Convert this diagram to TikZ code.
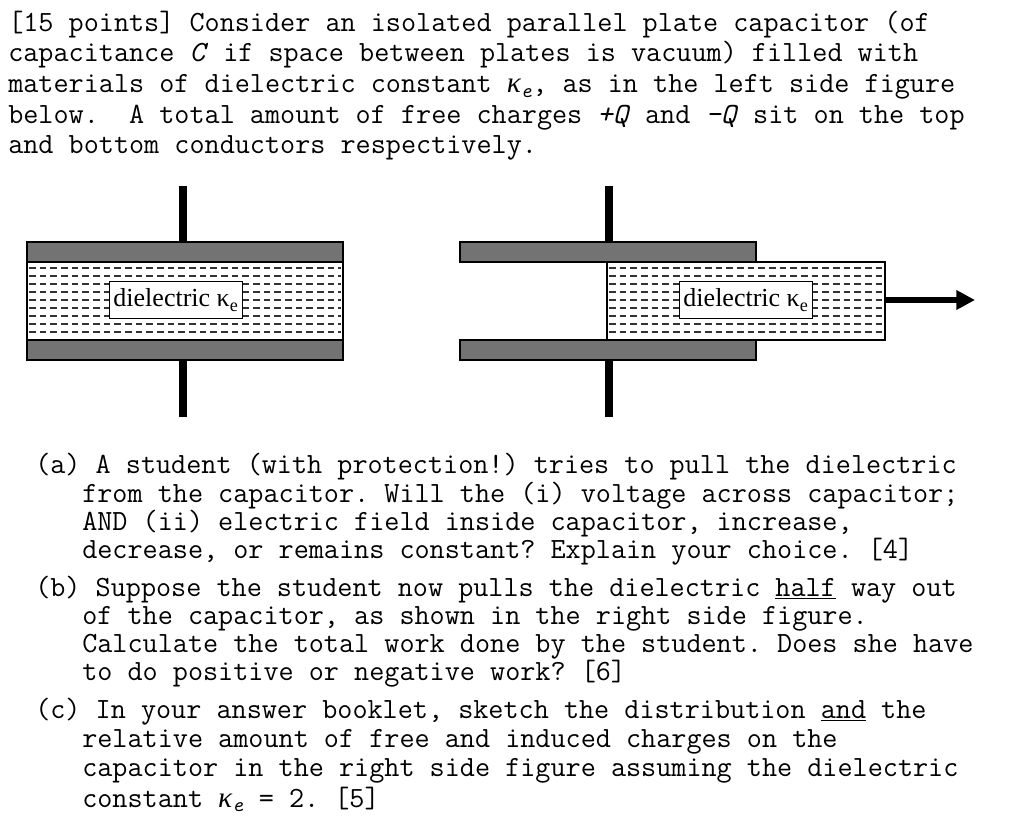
\documentclass[tikz,border=0pt]{standalone}
\usepackage{fontspec}
\setmainfont{Liberation Serif}
\newfontfamily\grk{Liberation Serif}
\usetikzlibrary{arrows.meta}
\frenchspacing
\begin{document}
\begin{tikzpicture}[x=0.75pt,y=-0.75pt,
  txt/.style={anchor=base west,inner sep=0pt,font=\fontsize{22}{24}\ttfamily\frenchspacing},
  plate/.style={draw=black,fill=black!55,line width=1pt},
  diel/.style={draw=black,fill=white,line width=0.8pt},
  dl/.style={line width=1pt,dash pattern=on 5pt off 3pt,black!80},
  lab/.style={draw=black,fill=white,line width=0.8pt,inner sep=3pt,font=\fontsize{19.5}{21}\selectfont,minimum height=28pt},
  lead/.style={line width=6pt}]
\useasboundingbox (0,0) rectangle (1024,831);
\newcommand{\ke}{{\grk\itshape κ}\textsubscript{\itshape e}}
\node[txt] (l1) at (8,32) {[15 points] Consider an isolated parallel plate capacitor (of};
\node[txt] (l2) at (8,62) {capacitance \textit{C} if space between plates is vacuum) filled with};
\node[txt] (l3) at (8,93) {materials of dielectric constant \ke, as in the left side figure};
\node[txt] (l4) at (8,124) {below.\ \ A total amount of free charges \textit{+Q} and \textit{-Q} sit on the top};
\node[txt] (l5) at (8,154) {and bottom conductors respectively.};
% left capacitor
\draw[lead] (183,186) coordinate (lt) -- (183,242);
\draw[lead] (183,360) -- (183,417) coordinate (lb);
\draw[diel] (27,262) rectangle (343,340);
\foreach \yy in {268,276,284,292,300,308,316,324,332}
  \draw[dl] (29,\yy) -- (341,\yy);
\draw[plate] (27,242) rectangle (343,262);
\draw[plate] (27,340) rectangle (343,360);
\node[lab] (la) at (176,300) {dielectric κ\textsubscript{e}};
% right capacitor
\draw[lead] (609,186) -- (609,242);
\draw[lead] (609,360) -- (609,417);
\draw[diel] (607,262) rectangle (885,340);
\foreach \yy in {268,276,284,292,300,308,316,324,332}
  \draw[dl] (609,\yy) -- (883,\yy);
\draw[plate] (460,242) rectangle (756,262);
\draw[plate] (460,340) rectangle (756,360);
\node[lab] (rb) at (746,300) {dielectric κ\textsubscript{e}};
\coordinate (ds) at (885,300);
\coordinate (de) at (975,300);
\draw[line width=4pt,-{Triangle[length=14pt,width=14pt]}] (ds) -- (de);
% questions
\node[txt] at (35,473) {(a) A student (with protection!) tries to pull the dielectric};
\node[txt] at (82,502) {from the capacitor. Will the (i) voltage across capacitor;};
\node[txt] at (82,530) {AND (ii) electric field inside capacitor, increase,};
\node[txt] at (82,558) {decrease, or remains constant? Explain your choice. [4]};
\node[txt] at (35,596) {(b) Suppose the student now pulls the dielectric \underline{half} way out};
\node[txt] at (82,624) {of the capacitor, as shown in the right side figure.};
\node[txt] at (82,652) {Calculate the total work done by the student. Does she have};
\node[txt] at (82,680) {to do positive or negative work? [6]};
\node[txt] at (35,718) {(c) In your answer booklet, sketch the distribution \underline{and} the};
\node[txt] at (82,747) {relative amount of free and induced charges on the};
\node[txt] at (82,776) {capacitor in the right side figure assuming the dielectric};
\node[txt] at (82,807) {constant \ke{} = 2. [5]};
\end{tikzpicture}
\end{document}
